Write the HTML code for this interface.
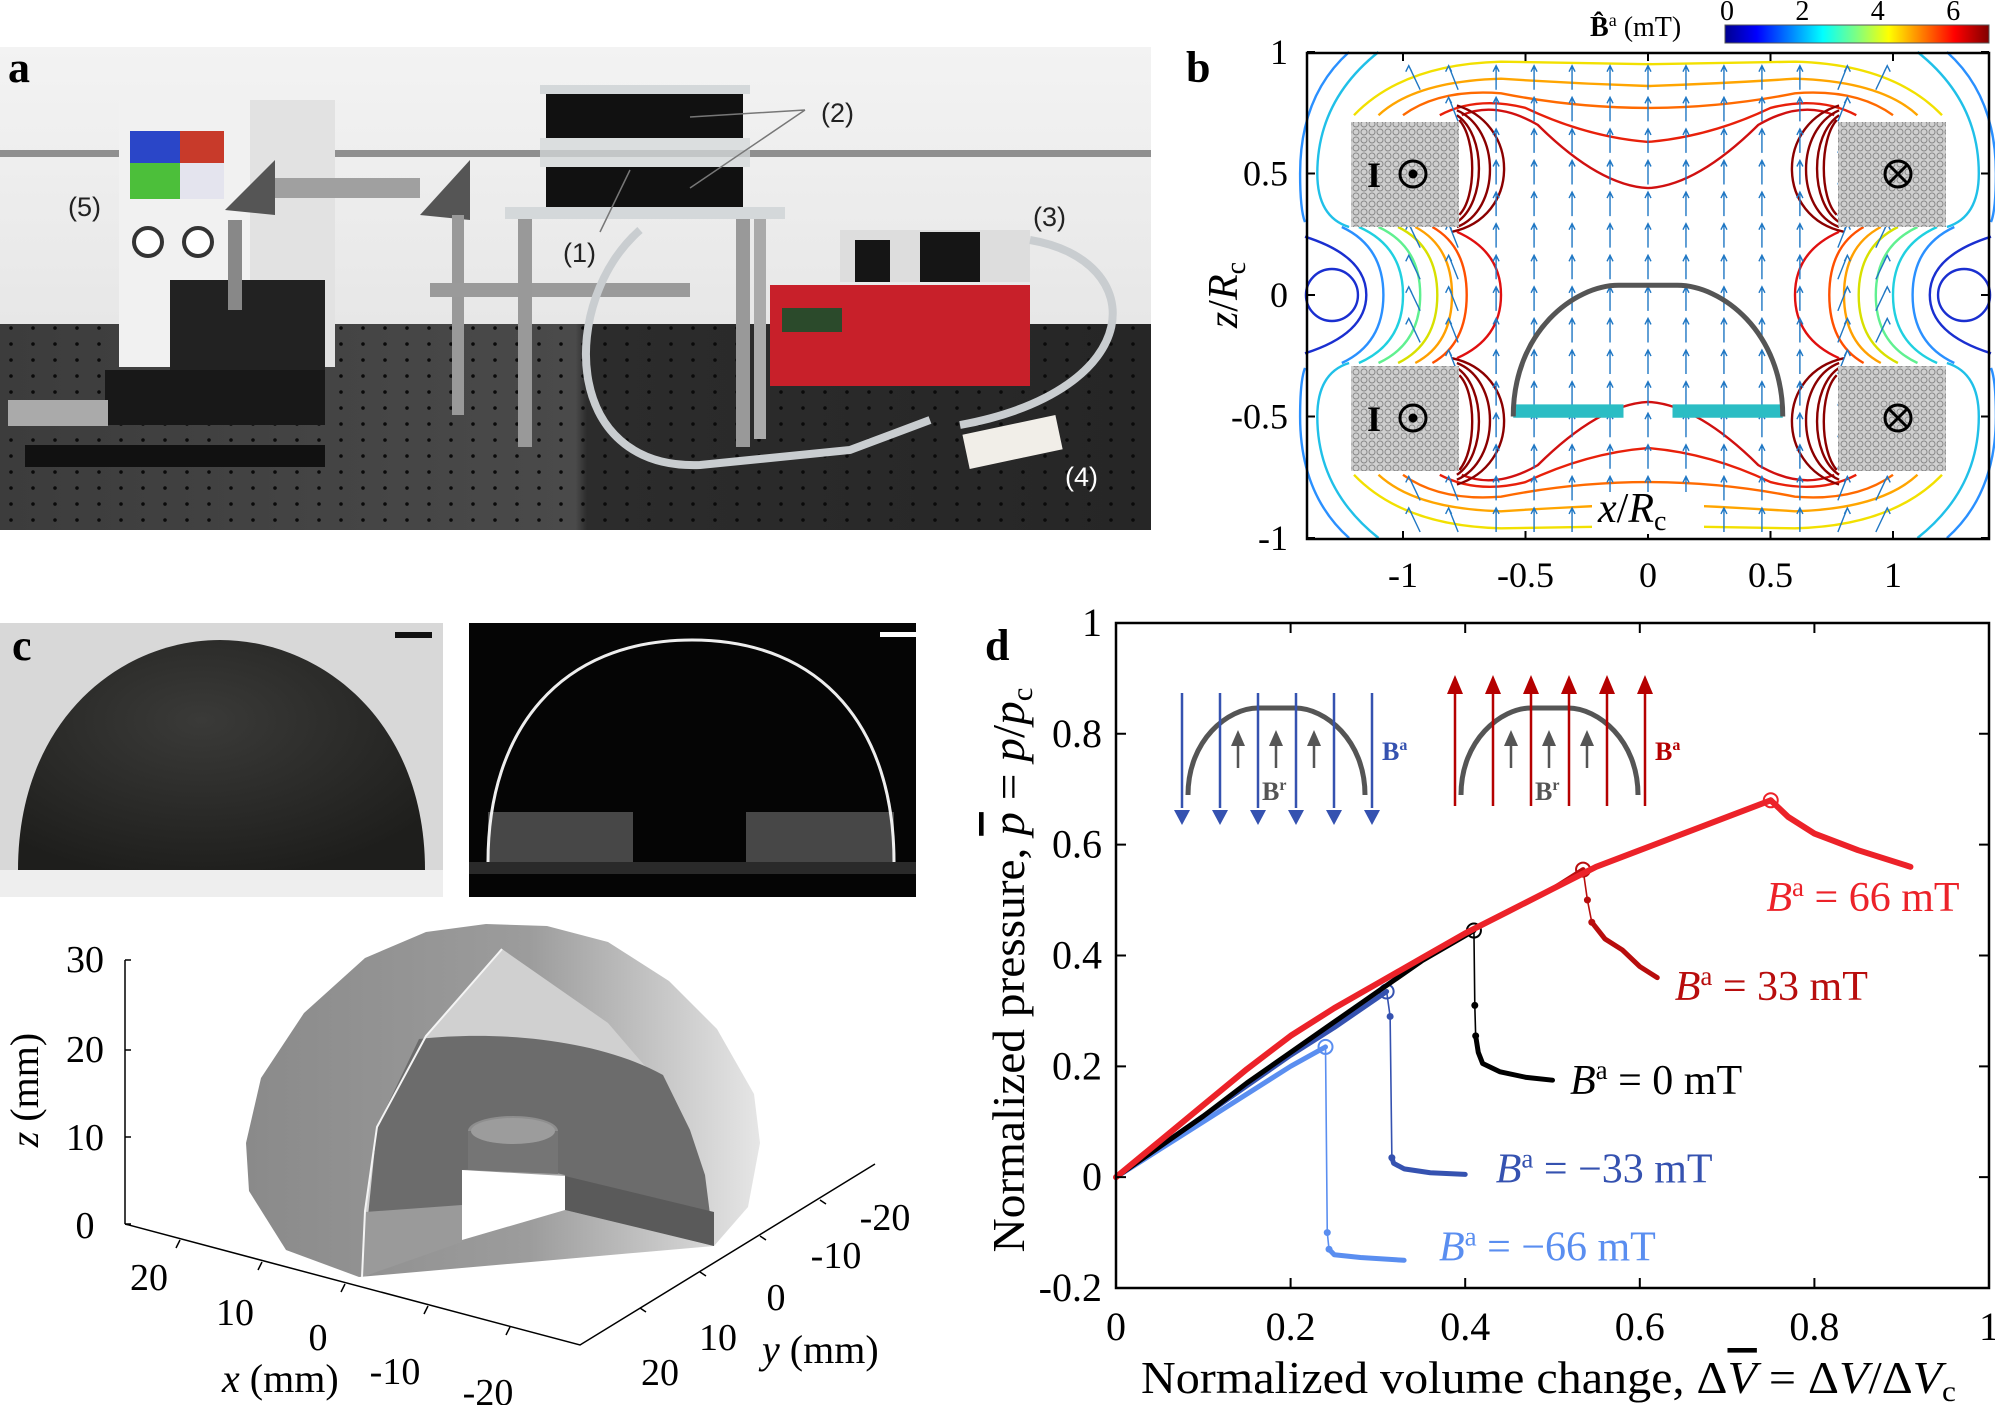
<!DOCTYPE html>
<html><head><meta charset="utf-8"><style>
html,body{margin:0;padding:0;background:#fff}
svg{display:block}
text{font-family:"Liberation Serif",serif}
.sans{font-family:"Liberation Sans",sans-serif}
</style></head><body>
<svg id="fig" width="1995" height="1405" viewBox="0 0 1995 1405" xmlns="http://www.w3.org/2000/svg">
<defs>
<linearGradient id="jet" x1="0" x2="1" y1="0" y2="0">
<stop offset="0" stop-color="#00008f"/><stop offset="0.12" stop-color="#0000ff"/><stop offset="0.37" stop-color="#00ffff"/><stop offset="0.5" stop-color="#80ff80"/><stop offset="0.62" stop-color="#ffff00"/><stop offset="0.87" stop-color="#ff0000"/><stop offset="1" stop-color="#800000"/>
</linearGradient>
<linearGradient id="wall" x1="0" x2="0" y1="0" y2="1"><stop offset="0" stop-color="#f3f3f3"/><stop offset="1" stop-color="#dedede"/></linearGradient>
<linearGradient id="table" x1="0" x2="1" y1="0" y2="0"><stop offset="0" stop-color="#3c3c3c"/><stop offset="0.5" stop-color="#4a4a4a"/><stop offset="0.51" stop-color="#2c2c2c"/><stop offset="1" stop-color="#262626"/></linearGradient>
<pattern id="holes" width="22" height="16" patternUnits="userSpaceOnUse"><circle cx="11" cy="8" r="1.8" fill="#0a0a0a"/></pattern>
<pattern id="mesh" width="8" height="8" patternUnits="userSpaceOnUse"><rect width="8" height="8" fill="#d0d0d0"/><circle cx="4" cy="4" r="3" fill="none" stroke="#888" stroke-width="1"/></pattern>
<radialGradient id="domeL" cx="0.45" cy="0.35" r="0.7"><stop offset="0" stop-color="#3a3a38"/><stop offset="1" stop-color="#1e1e1c"/></radialGradient>
<linearGradient id="shell" x1="0" x2="1"><stop offset="0" stop-color="#8a8a8a"/><stop offset="0.55" stop-color="#9c9c9c"/><stop offset="1" stop-color="#e6e6e6"/></linearGradient>
</defs>

<!-- ============ PANEL A (photo) ============ -->
<g>
<rect x="0" y="47" width="1151" height="483" fill="url(#wall)"/>
<rect x="0" y="150" width="1151" height="7" fill="#8f8f8f"/>
<rect x="0" y="324" width="1151" height="206" fill="url(#table)"/>
<rect x="0" y="324" width="1151" height="206" fill="url(#holes)"/>
<rect x="119" y="87" width="216" height="280" fill="#f1f1f1"/>
<rect x="250" y="100" width="85" height="267" fill="#e2e2e2"/>
<rect x="130" y="131" width="50" height="32" fill="#2a46c8"/><rect x="180" y="131" width="44" height="32" fill="#c83a2a"/>
<rect x="130" y="163" width="50" height="36" fill="#4cbf3a"/><rect x="180" y="163" width="44" height="36" fill="#e4e4ee"/>
<circle cx="148" cy="242" r="14" fill="#fff" stroke="#333" stroke-width="4"/><circle cx="198" cy="242" r="14" fill="#fff" stroke="#333" stroke-width="4"/>
<rect x="170" y="280" width="155" height="130" fill="#222"/>
<rect x="105" y="370" width="220" height="55" fill="#181818"/>
<rect x="25" y="445" width="300" height="22" fill="#111"/>
<rect x="8" y="400" width="100" height="26" fill="#aaa"/>
<rect x="270" y="178" width="150" height="20" fill="#a0a0a0"/>
<rect x="228" y="220" width="14" height="90" fill="#888"/>
<path d="M225 210 L275 160 L275 215 Z" fill="#555"/>
<path d="M420 215 L470 160 L470 220 Z" fill="#555"/>
<rect x="452" y="215" width="12" height="200" fill="#999"/>
<rect x="430" y="283" width="260" height="14" fill="#9a9a9a"/>
<rect x="546" y="94" width="197" height="44" fill="#111"/>
<rect x="546" y="167" width="197" height="40" fill="#111"/>
<rect x="540" y="85" width="210" height="9" fill="#d4d8da"/>
<rect x="540" y="138" width="210" height="29" fill="#d4d8da" opacity="0.75"/>
<rect x="505" y="207" width="280" height="12" fill="#d4d8da"/>
<rect x="518" y="219" width="14" height="228" fill="#999"/><rect x="736" y="219" width="14" height="228" fill="#999"/><rect x="754" y="219" width="12" height="220" fill="#aaa"/>
<rect x="770" y="285" width="260" height="101" fill="#c8202a"/>
<rect x="782" y="308" width="60" height="24" fill="#2b4a2b"/>
<rect x="840" y="230" width="190" height="52" fill="#ddd"/>
<rect x="855" y="240" width="35" height="42" fill="#151515"/><rect x="920" y="232" width="60" height="50" fill="#151515"/>
<path d="M640 230 C560 300 560 470 700 465 L850 450 L930 420" fill="none" stroke="#c9cdd0" stroke-width="8"/>
<path d="M1030 240 C1150 260 1150 390 960 425" fill="none" stroke="#c9cdd0" stroke-width="8"/>
<rect x="965" y="425" width="95" height="35" fill="#f1eee8" transform="rotate(-12 1010 442)"/>
<text x="8" y="82" font-size="44" font-weight="bold">a</text>
<text class="sans" x="68" y="216" font-size="27" fill="#222">(5)</text>
<text class="sans" x="563" y="262" font-size="27" fill="#222">(1)</text>
<text class="sans" x="821" y="122" font-size="27" fill="#222">(2)</text>
<text class="sans" x="1033" y="226" font-size="27" fill="#222">(3)</text>
<text class="sans" x="1065" y="486" font-size="27" fill="#fff">(4)</text>
<path d="M805 110 L690 117 M805 110 L690 188 M630 170 L600 232" stroke="#777" stroke-width="1.5" fill="none"/>
</g>

<!-- ============ PANEL C photos ============ -->
<g>
<rect x="0" y="623" width="443" height="274" fill="#d8d8d8"/>
<rect x="0" y="870" width="443" height="27" fill="#eee"/>
<path d="M18 870 C18 720 120 640 220 640 C320 640 425 720 425 870 Z" fill="url(#domeL)"/>
<rect x="395" y="632" width="37" height="6" fill="#111"/>
<text x="12" y="660" font-size="44" font-weight="bold">c</text>
</g>
<g>
<rect x="469" y="623" width="447" height="274" fill="#050505"/>
<rect x="488" y="812" width="145" height="50" fill="#474747"/>
<rect x="746" y="812" width="148" height="50" fill="#474747"/>
<rect x="469" y="862" width="447" height="12" fill="#2a2a2a"/>
<path d="M488 862 C488 730 560 640 692 640 C824 640 894 730 894 862" fill="none" stroke="#eee" stroke-width="3"/>
<rect x="880" y="632" width="36" height="5" fill="#fff"/>
</g>

<!-- ============ PANEL C 3D ============ -->
<g>
<path d="M125 1224 L580 1345 L875 1164" fill="none" stroke="#000" stroke-width="1.5"/>
<path d="M125 1224 L125 960 M125 960 h6 M125 1050 h6 M125 1137 h6 M125 1224 h6" fill="none" stroke="#000" stroke-width="1.5"/>
<path d="M180 1240 l-4 8 M262 1262 l-4 8 M345 1284 l-4 8 M428 1306 l-4 8 M510 1327 l-4 8 M640 1308 l6 4 M700 1272 l6 4 M760 1236 l6 4 M820 1200 l6 4" stroke="#000" stroke-width="1.5"/>
<path d="M359 1277 L286 1250 L249 1191 L246 1143 L261 1078 L304 1013 L365 958 L426 932 L486 924 L547 926 L608 942 L669 981 L717 1029 L754 1094 L760 1143 L748 1207 L714 1246 Z" fill="url(#shell)"/>
<path d="M502 949 L426 1036 L377 1127 L365 1211 L362 1277 L462 1240 L462 1120 L565 1120 L565 1210 L714 1246 L705 1175 L669 1094 L608 1023 Z" fill="#d0d0d0"/>
<path d="M419 1039 C500 1030 600 1040 663 1075 L690 1130 L705 1175 L714 1246 L565 1208 L565 1175 L535 1168 L462 1170 L462 1210 L368 1216 L377 1127 Z" fill="#6c6c6c"/>
<path d="M565 1176 L714 1212 L714 1246 L565 1210 Z" fill="#5a5a5a"/>
<path d="M365 1212 L462 1205 L462 1242 L362 1277 Z" fill="#9a9a9a"/>
<path d="M462 1170 L565 1176 L565 1210 L462 1240 Z" fill="#fff"/>
<ellipse cx="513" cy="1131" rx="45" ry="15" fill="#8e8e8e"/>
<path d="M468 1131 L468 1170 L558 1174 L558 1131 Z" fill="#757575"/>
<ellipse cx="513" cy="1131" rx="42" ry="13" fill="#9c9c9c"/>
<path d="M502 949 L426 1036 L377 1127 L365 1211 L362 1277" fill="none" stroke="#f4f4f4" stroke-width="2"/>
<text x="85" y="972" font-size="38" text-anchor="middle">30</text>
<text x="85" y="1062" font-size="38" text-anchor="middle">20</text>
<text x="85" y="1150" font-size="38" text-anchor="middle">10</text>
<text x="85" y="1238" font-size="38" text-anchor="middle">0</text>
<text transform="translate(38,1090) rotate(-90)" font-size="40" text-anchor="middle"><tspan font-style="italic">z</tspan> (mm)</text>
<text x="149" y="1290" font-size="38" text-anchor="middle">20</text>
<text x="235" y="1325" font-size="38" text-anchor="middle">10</text>
<text x="318" y="1350" font-size="38" text-anchor="middle">0</text>
<text x="395" y="1384" font-size="38" text-anchor="middle">-10</text>
<text x="488" y="1405" font-size="38" text-anchor="middle">-20</text>
<text x="222" y="1392" font-size="40"><tspan font-style="italic">x</tspan> (mm)</text>
<text x="660" y="1385" font-size="38" text-anchor="middle">20</text>
<text x="718" y="1350" font-size="38" text-anchor="middle">10</text>
<text x="776" y="1310" font-size="38" text-anchor="middle">0</text>
<text x="836" y="1268" font-size="38" text-anchor="middle">-10</text>
<text x="885" y="1230" font-size="38" text-anchor="middle">-20</text>
<text x="762" y="1363" font-size="40"><tspan font-style="italic">y</tspan> (mm)</text>
</g>

<!-- ============ PANEL B ============ -->
<g>
<text x="1186" y="82" font-size="44" font-weight="bold">b</text>
<rect x="1307" y="53" width="682" height="486" fill="#fff"/>
<g id="bContours"></g>
<g id="bArrows"></g>
<g id="bCoils"></g>
<rect x="1307" y="53" width="682" height="486" fill="none" stroke="#000" stroke-width="2.5"/>
<g id="bTicks"></g>
<text transform="translate(1237,295) rotate(-90)" font-size="42" text-anchor="middle"><tspan font-style="italic">z</tspan>/<tspan font-style="italic">R</tspan><tspan font-size="28" dy="8">c</tspan></text>
<rect x="1592" y="492" width="112" height="42" fill="#fff"/>
<text x="1598" y="522" font-size="42"><tspan font-style="italic">x</tspan>/<tspan font-style="italic">R</tspan><tspan font-size="28" dy="8">c</tspan></text>
<rect x="1725" y="25" width="264" height="18" fill="url(#jet)" stroke="#555"/>
<text x="1590" y="36" font-size="28" font-weight="bold">B̂<tspan font-size="18" font-weight="normal" dy="-10">a</tspan><tspan dy="10" font-weight="normal"> (mT)</tspan></text>
<g id="cbTicks"></g>
</g>

<!-- ============ PANEL D ============ -->
<g>
<text x="985" y="660" font-size="44" font-weight="bold">d</text>
<g id="dInset"></g>
<g id="dSeries"></g>
<rect x="1116" y="623" width="873" height="665" fill="none" stroke="#000" stroke-width="2.5"/>
<g id="dTicks"></g>
<g id="dLabels"></g>
<text x="1141" y="1393" font-size="46" textLength="815" lengthAdjust="spacingAndGlyphs">Normalized volume change, Δ<tspan font-style="italic" text-decoration="overline">V</tspan> = Δ<tspan font-style="italic">V</tspan>/Δ<tspan font-style="italic">V</tspan><tspan font-size="30" dy="8">c</tspan></text>
<text transform="translate(1024,970) rotate(-90)" font-size="46" text-anchor="middle" textLength="565" lengthAdjust="spacingAndGlyphs">Normalized pressure, <tspan font-style="italic" text-decoration="overline">p</tspan> = <tspan font-style="italic">p</tspan>/<tspan font-style="italic">p</tspan><tspan font-size="30" dy="8">c</tspan></text>
</g>
</svg>

<script>
const NS='http://www.w3.org/2000/svg';
function mk(parent,tag,attrs){const e=document.createElementNS(NS,tag);for(const k in attrs)e.setAttribute(k,attrs[k]);parent.appendChild(e);return e;}

/* ---------- Panel D data ---------- */
const dXTicks=[0,0.2,0.4,0.6,0.8,1];
const dXTickLabels=['0','0.2','0.4','0.6','0.8','1'];
const dYTicks=[-0.2,0,0.2,0.4,0.6,0.8,1];
const dYTickLabels=['-0.2','0','0.2','0.4','0.6','0.8','1'];
const seriesNames=['66 mT','33 mT','0 mT','-33 mT','-66 mT'];
const rise66V=[0,0.05,0.1,0.15,0.2,0.25,0.3,0.35,0.4,0.45,0.5,0.55,0.6,0.65,0.7,0.75];
const rise66P=[0,0.065,0.13,0.195,0.255,0.305,0.35,0.395,0.44,0.48,0.52,0.56,0.59,0.62,0.65,0.68];
const fall66V=[0.75,0.77,0.8,0.85,0.91];
const fall66P=[0.68,0.65,0.62,0.59,0.56];
const rise33V=[0,0.05,0.1,0.15,0.2,0.25,0.3,0.35,0.4,0.45,0.5,0.535];
const rise33P=[0,0.065,0.13,0.195,0.255,0.305,0.35,0.395,0.44,0.48,0.52,0.555];
const fall33V=[0.535,0.54,0.545,0.56,0.58,0.6,0.62];
const fall33P=[0.555,0.50,0.46,0.43,0.41,0.38,0.36];
const rise0V=[0,0.05,0.1,0.15,0.2,0.25,0.3,0.35,0.41];
const rise0P=[0,0.055,0.11,0.17,0.225,0.28,0.335,0.39,0.445];
const fall0V=[0.41,0.411,0.412,0.415,0.42,0.44,0.47,0.5];
const fall0P=[0.445,0.31,0.255,0.225,0.205,0.19,0.18,0.175];
const riseM33V=[0,0.05,0.1,0.15,0.2,0.25,0.31];
const riseM33P=[0,0.055,0.11,0.165,0.22,0.27,0.335];
const fallM33V=[0.31,0.314,0.316,0.318,0.33,0.36,0.4];
const fallM33P=[0.335,0.29,0.035,0.025,0.015,0.008,0.005];
const riseM66V=[0,0.05,0.1,0.15,0.2,0.24];
const riseM66P=[0,0.05,0.10,0.15,0.20,0.235];
const fallM66V=[0.24,0.242,0.244,0.25,0.28,0.33];
const fallM66P=[0.235,-0.1,-0.13,-0.14,-0.145,-0.15];
const seriesRiseV=[rise66V,rise33V,rise0V,riseM33V,riseM66V];
const seriesRiseP=[rise66P,rise33P,rise0P,riseM33P,riseM66P];
const seriesFallV=[fall66V,fall33V,fall0V,fallM33V,fallM66V];
const seriesFallP=[fall66P,fall33P,fall0P,fallM33P,fallM66P];
const seriesColors=['#ec2229','#b80d0d','#000000','#3552b0','#5a8ef0'];
const labelV=[0.745,0.64,0.52,0.435,0.37];
const labelP=[0.48,0.32,0.15,-0.01,-0.15];

const dx=v=>1116+v*873;
const dy=p=>1288-(p+0.2)*554.2;

const dT=document.getElementById('dTicks');
dXTicks.forEach((t,i)=>{
 const l=mk(dT,'path',{d:`M${dx(t)} 1288 v-10 M${dx(t)} 623 v10`,stroke:'#000','stroke-width':2});
 
 
 const tx=mk(dT,'text',{x:dx(t),y:1340,'font-size':40,'text-anchor':'middle'});tx.textContent=dXTickLabels[i];
 
 
});
dYTicks.forEach((t,i)=>{
 const l=mk(dT,'path',{d:`M1116 ${dy(t)} h10 M1989 ${dy(t)} h-10`,stroke:'#000','stroke-width':2});
 
 
 const tx=mk(dT,'text',{x:1102,y:dy(t)+13,'font-size':40,'text-anchor':'end'});tx.textContent=dYTickLabels[i];
 
 
});
const dS=document.getElementById('dSeries');
const drawOrder=[4,3,2,1,0];
drawOrder.forEach(i=>{
 const col=seriesColors[i];
 const rp=seriesRiseV[i].map((v,k)=>dx(v)+','+dy(seriesRiseP[i][k])).join(' ');
 const r=mk(dS,'polyline',{points:rp,fill:'none',stroke:col,'stroke-width':i==0?6:5,'stroke-linejoin':'round','stroke-linecap':'round'});
 
 
 const fV=seriesFallV[i],fP=seriesFallP[i];
 const thinPts=fV.slice(0,3).map((v,k)=>dx(v)+','+dy(fP[k])).join(' ');
 const fp=fV.map((v,k)=>dx(v)+','+dy(fP[k])).join(' ');
 const f=mk(dS,'polyline',{points:(i==0?fp:thinPts),fill:'none',stroke:col,'stroke-width':i==0?6:1.6,'stroke-linejoin':'round','stroke-linecap':'round'});
 
 
 if(i!=0){
  const tail=fV.slice(2).map((v,k)=>dx(v)+','+dy(fP[k+2])).join(' ');
  const t=mk(dS,'polyline',{points:tail,fill:'none',stroke:col,'stroke-width':5,'stroke-linecap':'round','stroke-linejoin':'round'});
  
  
  fV.slice(1,3).forEach((v,k)=>{const d=mk(dS,'circle',{cx:dx(v),cy:dy(fP[k+1]),r:3.5,fill:col});
   
   });
 }
 const c=mk(dS,'circle',{cx:dx(fV[0]),cy:dy(fP[0]),r:7,fill:'none',stroke:col,'stroke-width':2});
 
 
});
const dL=document.getElementById('dLabels');
const labelVals=['66','33','0','−33','−66'];
labelVals.forEach((v,i)=>{
 const t=mk(dL,'text',{x:dx(labelV[i]),y:dy(labelP[i]),'font-size':42,fill:seriesColors[i]});
 t.innerHTML='<tspan font-style="italic">B</tspan><tspan font-size="27" dy="-15">a</tspan><tspan dy="15"> = '+v+' mT</tspan>';
 
 
});

/* inset schematics */
const ins=document.getElementById('dInset');
function inset(x0,col,up){
 const xs=[0,1,2,3,4,5].map(k=>x0+k*38);
 const g=mk(ins,'g',{});
 
 
 const L=x0+6,R=x0+183;
 mk(g,'path',{d:`M${L} 795 C${L} 740 ${L+40} 708 ${L+70} 708 L${R-70} 708 C${R-40} 708 ${R} 740 ${R} 795`,fill:'none',stroke:'#555','stroke-width':5});
 xs.forEach(x=>{
  if(up){mk(g,'path',{d:`M${x} 806 V690`,stroke:col,'stroke-width':2.5});mk(g,'path',{d:`M${x-8} 694 L${x} 675 L${x+8} 694Z`,fill:col});}
  else{mk(g,'path',{d:`M${x} 693 V808`,stroke:col,'stroke-width':2.5});mk(g,'path',{d:`M${x-8} 810 L${x} 825 L${x+8} 810Z`,fill:col});}
 });
 [56,94,132].forEach(o=>{const x=x0+o;mk(g,'path',{d:`M${x} 768 V742`,stroke:'#555','stroke-width':2.5});mk(g,'path',{d:`M${x-7} 746 L${x} 730 L${x+7} 746Z`,fill:'#555'});});
 const t1=mk(g,'text',{x:x0+200,y:760,'font-size':26,'font-weight':'bold',fill:col});t1.innerHTML='B<tspan font-size="16" dy="-10">a</tspan>';
 const t2=mk(g,'text',{x:x0+80,y:800,'font-size':26,'font-weight':'bold',fill:'#555'});t2.innerHTML='B<tspan font-size="16" dy="-10">r</tspan>';
}
inset(1182,'#3552b0',false);
inset(1455,'#b50000',true);

/* ---------- Panel B ---------- */
const bTickVals=[-1,-0.5,0,0.5,1];
const bTickLabels=['-1','-0.5','0','0.5','1'];
const cbTickVals=[0,2,4,6];
const X=x=>1648+x*245, Z=z=>295-z*243;
const bT=document.getElementById('bTicks');
bTickVals.forEach((t,i)=>{
 const a=mk(bT,'path',{d:`M${X(t)} 539 v-8 M${X(t)} 53 v8 M1307 ${Z(t)} h8 M1989 ${Z(t)} h-8`,stroke:'#000','stroke-width':2});
 
 
 const tx=mk(bT,'text',{x:X(t),y:587,'font-size':36,'text-anchor':'middle'});tx.textContent=bTickLabels[i];
 
 
 const ty=mk(bT,'text',{x:1288,y:Z(t)+12,'font-size':36,'text-anchor':'end'});ty.textContent=bTickLabels[i];
 
 
});
const cbT=document.getElementById('cbTicks');
cbTickVals.forEach(v=>{const t=mk(cbT,'text',{x:1727+v*37.7,y:20,'font-size':28,'text-anchor':'middle'});t.textContent=v;
 
 });

const contourColors=['#f2e000','#ffa500','#ff6a00','#e8200a','#d01010','#8b0000','#8b0000','#8b0000','#8b0000','#1a2fd0','#2a90ff','#20d0e0','#60f090','#d8e000','#ffa000','#ff5000','#e01010','#20c0e8','#2a90ff'];
const contourPaths=[
 'M -1.2 0.74 Q -1.0 0.95 -0.6 0.96 Q -0.3 0.955 0 0.95',
 'M -1.1 0.74 Q -0.95 0.88 -0.6 0.89 Q -0.3 0.87 0 0.86',
 'M -1.0 0.74 Q -0.85 0.85 -0.6 0.83 Q -0.3 0.77 0 0.77',
 'M -0.85 0.74 Q -0.7 0.82 -0.5 0.77 Q -0.25 0.65 0 0.63',
 'M -0.76 0.74 Q -0.62 0.8 -0.45 0.7 Q -0.2 0.45 0 0.44',
 'M -0.78 0.78 C -0.52 0.7 -0.52 0.32 -0.8 0.26',
 'M -0.78 0.76 C -0.6 0.68 -0.6 0.35 -0.78 0.28',
 'M -0.78 0.74 C -0.66 0.66 -0.66 0.38 -0.78 0.3',
 'M -0.77 0.72 C -0.7 0.64 -0.7 0.4 -0.77 0.33',
 'M -1.4 0.24 Q -1.15 0.16 -1.15 0',
 'M -1.25 0.28 Q -1.08 0.2 -1.08 0',
 'M -1.18 0.28 Q -1.0 0.2 -1.0 0',
 'M -1.1 0.28 Q -0.93 0.2 -0.93 0',
 'M -1.02 0.28 Q -0.86 0.2 -0.86 0',
 'M -0.95 0.28 Q -0.8 0.2 -0.8 0',
 'M -0.88 0.28 Q -0.74 0.2 -0.74 0',
 'M -0.78 0.26 Q -0.6 0.18 -0.6 0',
 'M -1.1 1.0 Q -1.35 0.8 -1.35 0.5 Q -1.35 0.32 -1.22 0.28',
 'M -1.22 1.0 Q -1.42 0.82 -1.42 0.5 Q -1.42 0.35 -1.4 0.3'
];
function mapPath(d,sx,sz){
 const tok=d.split(/\s+/);let out=[],isX=true;
 for(const t of tok){ if(/[A-Za-z]/.test(t)){out.push(t);isX=true;continue;}
  const v=parseFloat(t); if(isX){out.push(X(v*sx).toFixed(1));}else{out.push(Z(v*sz).toFixed(1));} isX=!isX;}
 return out.join(' ');
}
const bC=document.getElementById('bContours');
[[1,1],[-1,1],[1,-1],[-1,-1]].forEach(([sx,sz])=>{
 contourPaths.forEach((d,i)=>{
  const p=mk(bC,'path',{d:mapPath(d,sx,sz),fill:'none',stroke:contourColors[i],'stroke-width':2.4});
  
  
 });
});
[-1,1].forEach(s=>{const c=mk(bC,'ellipse',{cx:X(s*1.29),cy:Z(0),rx:26,ry:26,fill:'none',stroke:'#1a2fd0','stroke-width':2.4});
 
 });

const arrowXs=[-0.93,-0.775,-0.62,-0.465,-0.31,-0.155,0,0.155,0.31,0.465,0.62,0.775,0.93];
const arrowZs=[-0.93,-0.8,-0.67,-0.54,-0.41,-0.28,-0.15,-0.02,0.11,0.24,0.37,0.5,0.63,0.76,0.89];
const bA=document.getElementById('bArrows');
arrowXs.forEach(x=>arrowZs.forEach(z=>{
 const ax=Math.abs(x);
 if(ax>0.78 && Math.abs(Math.abs(z)-0.52)<0.25) return;
 const tilt=ax>0.7?x*0.05:0;
 const x1=X(x),y1=Z(z)+11,x2=X(x)+tilt*245,y2=Z(z)-13;
 const a=mk(bA,'path',{d:`M${x1} ${y1} L${x2} ${y2} M${x2-3} ${y2+6} L${x2} ${y2} L${x2+3} ${y2+6}`,stroke:'#1f77c4','stroke-width':1.4,fill:'none'});
 
 
}));

const bK=document.getElementById('bCoils');
[[-1,1],[1,1],[-1,-1],[1,-1]].forEach(([sx,sz])=>{
 const x0=sx<0?1351:1838, y0=sz>0?122:366;
 const r=mk(bK,'rect',{x:x0,y:y0,width:108,height:105,fill:'url(#mesh)'});
 
 
 const cx=sx<0?x0+62:x0+60, cy=y0+52;
 mk(bK,'circle',{cx:cx,cy:cy,r:13,fill:'none',stroke:'#000','stroke-width':3});
 if(sx<0){mk(bK,'circle',{cx:cx,cy:cy,r:4.5,fill:'#000'});
  const t=mk(bK,'text',{x:x0+16,y:cy+13,'font-size':36,'font-weight':'bold'});t.textContent='I';}
 else mk(bK,'path',{d:`M${cx-9} ${cy-9} L${cx+9} ${cy+9} M${cx+9} ${cy-9} L${cx-9} ${cy+9}`,stroke:'#000','stroke-width':3});
});
const sub=mk(bK,'path',{d:`M${X(-0.55)} ${Z(-0.45)} H${X(-0.1)} V${Z(-0.505)} H${X(-0.55)}Z M${X(0.1)} ${Z(-0.45)} H${X(0.55)} V${Z(-0.505)} H${X(0.1)}Z`,fill:'#2bbdc4'});


const dome=mk(bK,'path',{d:`M${X(-0.55)} ${Z(-0.5)} C${X(-0.55)} ${Z(-0.15)} ${X(-0.3)} ${Z(0.04)} ${X(-0.12)} ${Z(0.04)} H${X(0.12)} C${X(0.3)} ${Z(0.04)} ${X(0.55)} ${Z(-0.15)} ${X(0.55)} ${Z(-0.5)}`,fill:'none',stroke:'#555','stroke-width':5});


</script>
</body></html>
